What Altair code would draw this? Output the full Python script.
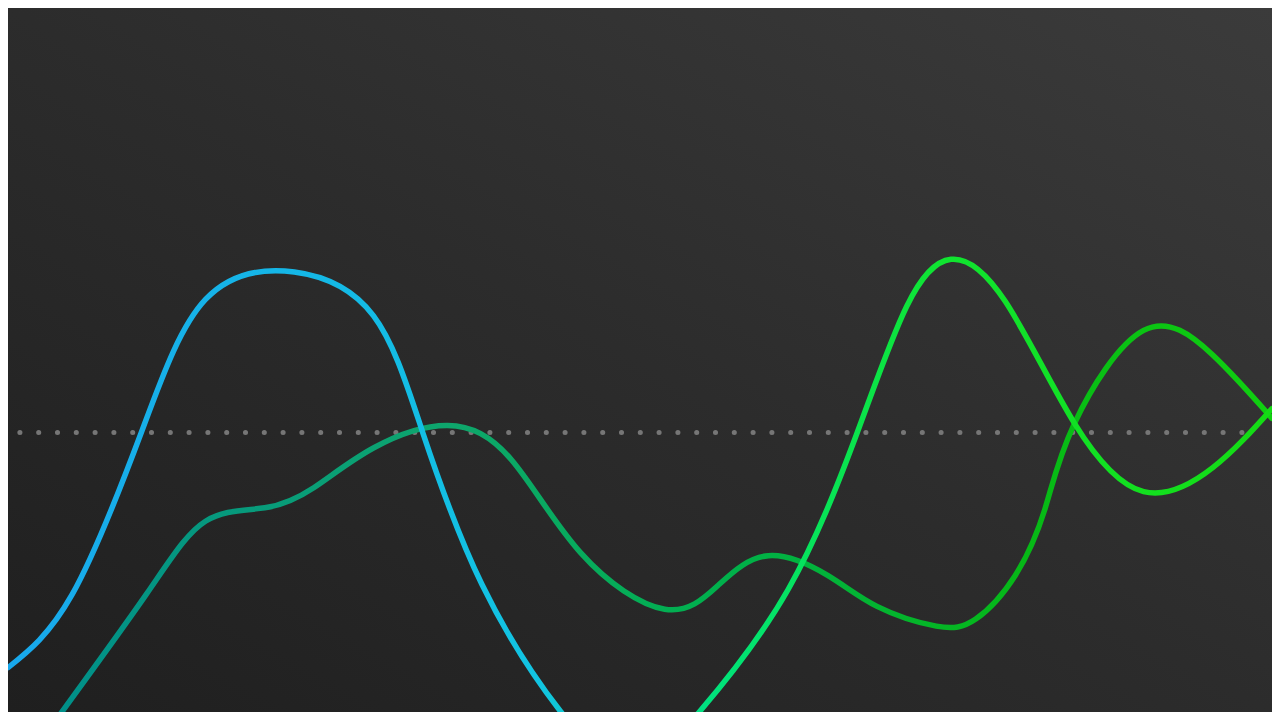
import altair as alt
import pandas as pd

# Series A (blue -> green)
a_x = [0, 6.5, 13.5, 20, 29, 37, 42, 48, 56, 63, 70, 79, 86, 91, 95.5, 101, 108, 115, 122, 128]
a_y = [6.3, 16.7, 39.7, 58.6, 62.5, 56.3, 39.7, 18.1, 0, -7.6, 0, 17.4, 39.7, 57.6, 64.3, 58.3, 41.0, 31.3, 34.7, 43.1]

# Series B (teal -> green)
b_x = [4, 14, 20, 26, 31, 37, 44.5, 51, 58, 66.5, 72, 77, 83, 88, 94, 98, 102, 105, 108, 115, 122, 128]
b_y = [-2.8, 16.7, 27.1, 29.0, 31.9, 37.5, 40.7, 35.8, 22.6, 14.6, 18.1, 22.2, 19.4, 15.0, 12.2, 13.2, 19.4, 28.8, 41.0, 54.2, 50.7, 41.7]

reference_level = 39.7
frame = {"x0": 0, "x1": 128, "y0": 0, "y1": 100}
dots = {"x0": 1.2, "x1": 126.5, "y": reference_level}

W, H = 1264, 704

df_a = pd.DataFrame({"x": a_x, "y": a_y})
df_b = pd.DataFrame({"x": b_x, "y": b_y})

xs = alt.Scale(domain=[0, 128], nice=False, zero=False)
ys = alt.Scale(domain=[0, 100], nice=False, zero=False)

bg_grad = alt.Gradient(
    gradient="linear", x1=0, y1=1, x2=1, y2=0,
    stops=[alt.GradientStop(color="#1f1f1f", offset=0),
           alt.GradientStop(color="#2c2c2c", offset=0.5),
           alt.GradientStop(color="#3b3b3b", offset=1)],
)
bg = alt.Chart(pd.DataFrame([frame])).mark_rect(fill=bg_grad).encode(
    x=alt.X("x0:Q", scale=xs, axis=None), x2="x1:Q",
    y=alt.Y("y0:Q", scale=ys, axis=None), y2="y1:Q",
)

rule = alt.Chart(pd.DataFrame([dots])).mark_rule(
    color="#767676", strokeWidth=5, strokeCap="round", strokeDash=[0.1, 18.7]
).encode(
    x=alt.X("x0:Q", scale=xs, axis=None), x2="x1:Q",
    y=alt.Y("y:Q", scale=ys, axis=None),
)

grad_a = alt.Gradient(
    gradient="linear", x1=0, y1=0, x2=1, y2=0,
    stops=[alt.GradientStop(color="#18a8ec", offset=0),
           alt.GradientStop(color="#12c4e2", offset=0.42),
           alt.GradientStop(color="#00e27a", offset=0.56),
           alt.GradientStop(color="#10e430", offset=0.74),
           alt.GradientStop(color="#14dc14", offset=1)],
)
grad_b = alt.Gradient(
    gradient="linear", x1=0, y1=0, x2=1, y2=0,
    stops=[alt.GradientStop(color="#008f8a", offset=0),
           alt.GradientStop(color="#0ea66c", offset=0.33),
           alt.GradientStop(color="#00b04c", offset=0.55),
           alt.GradientStop(color="#06b816", offset=0.8),
           alt.GradientStop(color="#10d010", offset=1)],
)

line_b = alt.Chart(df_b).mark_line(
    stroke=grad_b, strokeWidth=5.5, interpolate="natural", clip=True, strokeCap="round"
).encode(x=alt.X("x:Q", scale=xs, axis=None), y=alt.Y("y:Q", scale=ys, axis=None))

line_a = alt.Chart(df_a).mark_line(
    stroke=grad_a, strokeWidth=5.5, interpolate="natural", clip=True, strokeCap="round"
).encode(x=alt.X("x:Q", scale=xs, axis=None), y=alt.Y("y:Q", scale=ys, axis=None))

chart = alt.layer(bg, rule, line_b, line_a).properties(
    width=W, height=H, padding=0, background="#262626"
).configure_view(stroke=None)

chart.save("out.html", embed_options={"renderer": "svg", "actions": False})
